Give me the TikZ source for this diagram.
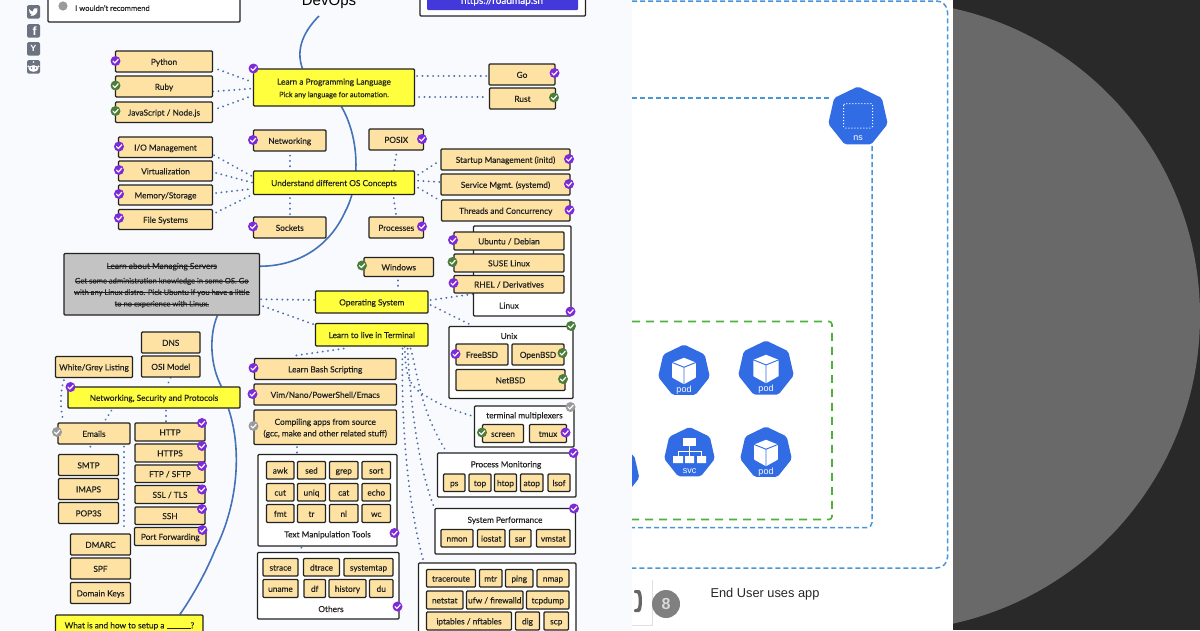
\documentclass[tikz,border=0pt]{standalone}
\usepackage{fontspec}
\setmainfont[FakeBold=0.25]{Lato}
\newfontfamily\rmapfont{Liberation Sans}
\usetikzlibrary{shapes.geometric}
\pgfdeclarelayer{bglayer}\pgfdeclarelayer{linelayer}
\pgfsetlayers{bglayer,linelayer,main}
\definecolor{tanfill}{HTML}{FDE2A3}
\definecolor{yelfill}{HTML}{FFFF3D}
\definecolor{grayfill}{HTML}{C3C3C3}
\definecolor{edge}{HTML}{222222}
\definecolor{panel}{HTML}{F8FAFD}
\definecolor{curvec}{HTML}{4472B8}
\definecolor{dotc}{HTML}{4A6DA8}
\definecolor{cpurple}{HTML}{7D2AD8}
\definecolor{cgreen}{HTML}{4B7D3B}
\definecolor{cgray}{HTML}{9A9A9A}
\definecolor{kblue}{HTML}{326CE5}
\definecolor{dashblue}{HTML}{4A94D8}
\definecolor{dashgreen}{HTML}{4FB03C}
\definecolor{social}{HTML}{6B7280}
\tikzset{
 x=1pt,y=-1pt,
 box/.style={draw=edge,line width=1.2pt,rounded corners=1pt,inner sep=0pt,align=center,text=edge,font=\fontsize{8.3}{11.5}\selectfont},
 conn/.style={dotc,line width=2pt,line cap=round,dash pattern=on 0.1pt off 5.2pt},
 curve/.style={curvec,line width=1.6pt},
 kdash/.style={dashblue,line width=1.5pt,dash pattern=on 5pt off 3pt},
 gdash/.style={dashgreen,line width=1.6pt,dash pattern=on 8pt off 6pt},
 hept/.style={regular polygon,regular polygon sides=7,fill=kblue,inner sep=0pt,rounded corners=2pt},
 plabel/.style={inner sep=0pt,text=edge,yshift=-1pt,font=\fontsize{8.3}{10}\selectfont},
 klabel/.style={inner sep=0pt,text=white,font=\rmapfont\fontsize{9}{10}\selectfont}
}
\newcommand\anybox[7]{\node[box,fill=#1,minimum width={(#5-#3)*1pt},minimum height={(#6-#4)*1pt}] (#2) at ({(#3+#5)/2},{(#4+#6)/2}) {\rule{0pt}{8.2pt}\vphantom{g}#7};}
\newcommand\tb[6]{\anybox{tanfill}{#1}{#2}{#3}{#4}{#5}{#6}}
\newcommand\yb[6]{\anybox{yelfill}{#1}{#2}{#3}{#4}{#5}{#6}}
\newcommand\wb[5]{\anybox{white}{#1}{#2}{#3}{#4}{#5}{}}
\newcommand\chk[3]{\fill[#3] (#1,#2) circle (5);\draw[white,line width=1.2pt,line cap=round,line join=round] ({#1-2.5},{#2+.1}) -- ({#1-.6},{#2+2}) -- ({#1+2.8},{#2-1.8});}
\newcommand\strk[1]{\setbox0\hbox{#1}\rlap{\raisebox{.24em}{\rule{\wd0}{.55pt}}}\box0}
\newcommand\strs[1]{\strk{\fontsize{7.6}{9}\selectfont #1}}
\newcommand\podn[5]{\node[hept,minimum size=#4*1pt] (#1) at (#2,#3) {};
 \begin{scope}[shift={(#2,#3)},scale=#4/56]
 \fill[white,rounded corners=.5pt] (0,-14)--(12.5,-9)--(12.5,7)--(0,14)--(-12.5,7)--(-12.5,-9)--cycle;
 \draw[kblue,line width=.9pt] (-12.5,-9)--(0,-4)--(12.5,-9) (0,-4)--(0,14);
 \end{scope}
 \node[klabel] (#1t) at (#2,{#3+#4*.36}) {pod};}
\begin{document}
\begin{tikzpicture}
\useasboundingbox (0,0) rectangle (1200,630);
\begin{pgfonlayer}{bglayer}
\fill[panel] (0,0) rectangle (632,630);
\fill[white] (632,0) rectangle (953,630);
\fill[black!84] (953,0) rectangle (1200,630);
\begin{scope}
\clip (953,0) rectangle (1200,630);
\fill[black!59] (885,316) circle (315);
\end{scope}
\end{pgfonlayer}
% social
\foreach \yy/\ss in {5/t,24/f,42/y,60/r}{\fill[social,rounded corners=1.5pt] (27,\yy) rectangle (40,{\yy+13.5});}
\fill[white] (29,9) .. controls (31,11) and (32,11.5) .. (33,11.5) .. controls (33,8) and (36,7.5) .. (37.5,8.5) .. controls (38,12) and (36,16.5) .. (30,16) .. controls (31,15.5) and (32,15) .. (32,15) .. controls (30,14) and (29,12) .. (29,9);
\node[inner sep=0pt,text=white,font=\rmapfont\bfseries\fontsize{12}{12}\selectfont] (fbicon) at (34.5,31.5) {f};
\node[inner sep=0pt,text=white,font=\rmapfont\bfseries\fontsize{9}{9}\selectfont] (ycicon) at (33.5,48.8) {Y};
\fill[white] (33.5,68.5) ellipse (5 and 3.3);\fill[social] (31.5,68) circle (.9) (35.5,68) circle (.9);\fill[white] (33.5,62) circle (.9);\fill[white] (28.5,66.5) circle (1.1) (38.5,66.5) circle (1.1);
% legend
\wb{legend}{48}{-20}{240}{22}
\fill[cgray] (63,6) circle (4.6);
\node[plabel,anchor=west,font=\fontsize{7.6}{9}\selectfont] (legt) at (75,7) {I wouldn't recommend};
\node[inner sep=0pt,text=black,font=\rmapfont\fontsize{15}{16}\selectfont] (devops) at (329,2) {DevOps};
\wb{linkbox}{420}{-20}{585.5}{16}
\fill[rounded corners=1pt,fill={rgb,255:red,67;green,56;blue,218}] (427,-20) rectangle (578,10);
\node[inner sep=0pt,text=white,font=\fontsize{10}{11}\selectfont] (linkt) at (502,1) {https://roadmap.sh};
% language group
\tb{py}{115.5}{51}{212.5}{72}{Python}
\tb{rb}{115.5}{76}{212.5}{97}{Ruby}
\tb{js}{115.5}{102}{212.5}{122.5}{JavaScript / Node.js}
\yb{lang}{253.5}{69}{414.5}{106}{Learn a Programming Language\\[1pt]{\fontsize{7.4}{9}\selectfont Pick any language for automation.}}
\tb{go}{489}{64}{555}{85}{Go}
\tb{rust}{489.5}{88}{555.5}{109}{Rust}
% OS concepts
\tb{io}{118.5}{137}{212.5}{157.5}{I/O Management}
\tb{virt}{118.5}{161}{212.5}{181}{Virtualization}
\tb{mem}{118.5}{185}{212.5}{205}{Memory/Storage}
\tb{fs}{118.5}{209.5}{212.5}{229.5}{File Systems}
\tb{netw}{253.5}{130}{326}{151}{Networking}
\tb{posix}{369}{129}{423.5}{150}{POSIX}
\yb{oscon}{253.5}{171}{414.5}{194.5}{Understand different OS Concepts}
\tb{sock}{253.5}{217}{326}{238}{Sockets}
\tb{proc}{369}{217}{423.5}{238}{Processes}
\tb{startup}{441}{149}{570}{170}{Startup Management (initd)}
\tb{service}{441}{174}{570}{195}{Service Mgmt. (systemd)}
\tb{threads}{441.5}{200}{570}{221}{Threads and Concurrency}
% servers
\node[box,fill=grayfill,minimum width=195.5pt,minimum height=61.5pt] (srv) at (161.75,284.25) {\rule{0pt}{8.2pt}\strk{Learn about Managing Servers}\\[3pt]\strs{Get some administration knowledge in some OS. Go}\\\strs{with any Linux distro. Pick Ubuntu if you have a little}\\\strs{to no experience with Linux.}};
\tb{win}{364}{257.5}{433.5}{276.5}{Windows}
\yb{opsys}{315.5}{291}{428}{313}{Operating System}
\yb{term}{315.5}{323.5}{428}{346}{Learn to live in Terminal}
% linux
\wb{linux}{473.5}{226}{571}{316}
\node[plabel] (linuxt) at (509,304.5) {Linux};
\tb{ubuntu}{454}{232}{564}{250}{Ubuntu / Debian}
\tb{suse}{454}{254}{564}{272}{SUSE Linux}
\tb{rhel}{454}{275.5}{564}{293}{RHEL / Derivatives}
\wb{unix}{449}{326.5}{573}{398.5}
\node[plabel] (unixt) at (509,335) {Unix};
\tb{free}{456}{344}{508}{365}{FreeBSD}
\tb{open}{512}{344}{564}{365}{OpenBSD}
\tb{netb}{456}{369.5}{565}{390.5}{NetBSD}
\wb{tmuxb}{474.5}{406}{574}{447}
\node[plabel] (tmuxt) at (524.5,415) {terminal multiplexers};
\tb{screen}{482.5}{424.5}{523.5}{442.5}{screen}
\tb{tmux}{529.5}{424.5}{566.5}{442.5}{tmux}
\wb{pmon}{437.5}{453}{576}{497}
\node[plabel] (pmont) at (506,464) {Process Monitoring};
\tb{ps}{443.5}{474}{465}{491.5}{ps}
\tb{top}{469}{474}{491}{491.5}{top}
\tb{htop}{494.5}{474}{516.5}{491.5}{htop}
\tb{atop}{520.5}{474}{543}{491.5}{atop}
\tb{lsof}{548}{474}{570}{491.5}{lsof}
\wb{sysp}{435}{508.5}{575.5}{554}
\node[plabel] (syspt) at (505,519.5) {System Performance};
\tb{nmon}{441}{529.5}{473}{547}{nmon}
\tb{iostat}{477.5}{529.5}{505}{547}{iostat}
\tb{sar}{509.5}{529.5}{531}{547}{sar}
\tb{vmstat}{536.5}{529.5}{570}{547}{vmstat}
\wb{netb2}{418.5}{563}{576}{650}
\tb{traceroute}{426.5}{569.5}{475.5}{587}{traceroute}
\tb{mtr}{479.5}{569.5}{502}{587}{mtr}
\tb{ping}{505.5}{569.5}{533}{587}{ping}
\tb{nmap}{537}{569.5}{569}{587}{nmap}
\tb{netstat}{426.5}{591}{463}{609}{netstat}
\tb{ufw}{466.5}{591}{523}{609}{ufw / firewalld}
\tb{tcpdump}{526.5}{591}{569}{609}{tcpdump}
\tb{iptables}{426.5}{612}{511.5}{630}{iptables / nftables}
\tb{dig}{515.5}{612}{539.5}{630}{dig}
\tb{scp}{544}{612}{568.5}{630}{scp}
% shell
\tb{bash}{254.5}{358.5}{396}{379.5}{Learn Bash Scripting}
\tb{vim}{254}{384}{396.5}{405}{Vim/Nano/PowerShell/Emacs}
\tb{comp}{254}{410}{396.5}{444.5}{Compiling apps from source\\(gcc, make and other related stuff)}
\wb{textb}{258}{454.5}{397}{546}
\node[plabel] (textt) at (327.5,534) {Text Manipulation Tools};
\tb{awk}{266.5}{461.5}{294}{479}{awk}
\tb{sed}{297.5}{461.5}{325.5}{479}{sed}
\tb{grep}{329.5}{461.5}{358}{479}{grep}
\tb{sort}{362}{461.5}{390.5}{479}{sort}
\tb{cut}{266.5}{483.5}{294}{501}{cut}
\tb{uniq}{297.5}{483.5}{325.5}{501}{uniq}
\tb{cat}{329.5}{483.5}{358}{501}{cat}
\tb{echo}{362}{483.5}{390.5}{501}{echo}
\tb{fmt}{266.5}{504.5}{294}{522.5}{fmt}
\tb{tr}{297.5}{504.5}{325.5}{522.5}{tr}
\tb{nl}{329.5}{504.5}{358}{522.5}{nl}
\tb{wc}{362}{504.5}{390.5}{522.5}{wc}
\wb{others}{257.5}{552.5}{399}{619}
\node[plabel] (otherst) at (331,608) {Others};
\tb{strace}{263}{558.5}{298}{576}{strace}
\tb{dtrace}{303.5}{558.5}{339.5}{576}{dtrace}
\tb{systemtap}{344}{558.5}{393}{576}{systemtap}
\tb{uname}{263}{579.5}{298}{597.5}{uname}
\tb{df}{304}{579.5}{325.5}{597.5}{df}
\tb{history}{329}{579.5}{366}{597.5}{history}
\tb{du}{369.5}{579.5}{393}{597.5}{du}
% network
\tb{dns}{141.5}{332}{200}{353}{DNS}
\tb{osi}{141.5}{356}{200}{377}{OSI Model}
\tb{wgl}{55.5}{356.5}{132.5}{377.5}{White/Grey Listing}
\yb{nsp}{68}{387}{240}{408}{Networking, Security and Protocols}
\tb{emails}{58}{423}{130}{444}{Emails}
\tb{smtp}{58.5}{454.5}{118.5}{475.5}{SMTP}
\tb{imaps}{58.5}{478.5}{118.5}{499.5}{IMAPS}
\tb{pop}{58.5}{502.5}{118.5}{523.5}{POP3S}
\tb{dmarc}{70.5}{534}{130.5}{555}{DMARC}
\tb{spf}{70.5}{558}{130.5}{579}{SPF}
\tb{dkim}{70.5}{582.5}{130.5}{603.5}{Domain Keys}
\tb{http}{135}{423}{205}{441}{HTTP}
\tb{https}{135}{444}{205}{462}{HTTPS}
\tb{ftp}{135}{465}{205}{482.5}{FTP / SFTP}
\tb{ssl}{135}{485.5}{205}{503.5}{SSL / TLS}
\tb{ssh}{135}{507}{205}{524.5}{SSH}
\tb{port}{134.5}{527.5}{206}{545.5}{Port Forwarding}
\anybox{yelfill}{setup}{55.5}{615}{203}{650}{}
\node[plabel] (setupt) at (129.5,625) {What is and how to setup a \rule[-.3pt]{24pt}{.5pt}?};
% connectors
\coordinate (cstart) at (319,16);
\begin{pgfonlayer}{linelayer}
\draw[curve] (cstart) .. controls (305,30) and (295,48) .. ([shift={(49.5,0)}]lang.north west);
\draw[curve] ([shift={(88.5,0)}]lang.south west) .. controls (358,135) and (362,180) .. (345,212) .. controls (330,245) and (300,266) .. ([shift={(0,-18)}]srv.east);
\draw[curve] ([shift={(154,0)}]srv.south west) .. controls (209,335) and (210,365) .. ([shift={(154,0)}]nsp.north west);
\draw[curve] ([shift={(161,0)}]nsp.south west) .. controls (241,445) and (240,500) .. (215,550) .. controls (205,575) and (190,600) .. ([shift={(125,0)}]setup.north west);
\draw[conn] ([shift={(5,8)}]py.east) -- ([shift={(-2,-6)}]lang.west);
\draw[conn] ([shift={(0,5)}]rb.east) -- ([shift={(0,1)}]lang.west);
\draw[conn] ([shift={(5,-4)}]js.east) -- ([shift={(0,8)}]lang.west);
\draw[conn] ([shift={(2,-11.5)}]lang.east) -- ([shift={(-1,1.5)}]go.west);
\draw[conn] ([shift={(4,9.5)}]lang.east) -- ([shift={(-1,-1.5)}]rust.west);
\draw[conn] ([shift={(0,4)}]netw.south) -- (netw.south|-oscon.north);
\draw[conn] ([shift={(0,4)}]posix.south) -- ([shift={(-2.5,0)}]posix.south|-oscon.north);
\draw[conn] ([shift={(0,3)}]netw.south|-oscon.south) -- (netw.south|-sock.north);
\draw[conn] ([shift={(-2.5,3)}]posix.south|-oscon.south) -- (proc.north);
\draw[conn] ([shift={(1,8)}]io.east) -- ([shift={(0,-6)}]oscon.west);
\draw[conn] ([shift={(3,2)}]virt.east) -- ([shift={(0,0)}]oscon.west);
\draw[conn] ([shift={(3,-2)}]mem.east) -- ([shift={(0,6)}]oscon.west);
\draw[conn] ([shift={(3,-7)}]fs.east) -- ([shift={(0,11.5)}]oscon.west);
\draw[conn] ([shift={(3,-8)}]oscon.east) -- ([shift={(-1,1.5)}]startup.west);
\draw[conn] ([shift={(3,-2)}]oscon.east) -- ([shift={(-1,-2.5)}]service.west);
\draw[conn] ([shift={(3,5)}]oscon.east) -- ([shift={(-1,-10)}]threads.west);
\draw[conn] ([shift={(1,15)}]srv.east) -- ([shift={(0,-2)}]opsys.west);
\draw[conn] ([shift={(3,22)}]srv.east) -- ([shift={(0,-10)}]term.west);
\draw[conn] ([shift={(-0.5,-2)}]win.south) -- ([shift={(26.5,0)}]opsys.north);
\draw[conn] ([shift={(2,-2)}]opsys.east) -- ([shift={(0,23)}]linux.west);
\draw[conn] ([shift={(2,3)}]opsys.east) -- ([shift={(24.5,0)}]unix.north west);
\draw[conn] ([shift={(-28,2)}]term.south) -- ([shift={(-32.5,-2)}]bash.north);
\draw[conn] ([shift={(-24,0)}]term.south east) .. controls (406,365) and (404,385) .. (426,396) .. controls (440,405) and (455,411) .. ([shift={(0,-10)}]tmuxb.west);
\draw[conn] ([shift={(-18,2)}]term.south east) .. controls (418,375) and (420,410) .. ([shift={(10,0)}]pmon.north west);
\draw[conn] ([shift={(-21,2)}]term.south east) .. controls (409,380) and (415,460) .. ([shift={(0,0)}]sysp.north west);
\draw[conn] ([shift={(-26,2)}]term.south east) .. controls (401,410) and (406,500) .. ([shift={(6,0)}]netb2.north west);
\draw[conn] ([shift={(44,2)}]comp.south west) -- ([shift={(40,0)}]textb.north west);
\draw[conn] ([shift={(44,1)}]textb.south west) -- ([shift={(46.5,0)}]others.north west);
\draw[conn] ([shift={(9,2)}]wgl.south west) .. controls (60,392) and (60,408) .. ([shift={(6,-1)}]emails.north west);
\draw[conn] (osi.south) -- ([shift={(-4,0)}]osi.south|-nsp.north);
\draw[conn] ([shift={(44,2)}]nsp.south west) -- ([shift={(47,-1)}]emails.north west);
\draw[conn] ([shift={(99,2)}]nsp.south west) -- ([shift={(32,-1)}]http.north west);
\draw[conn] ([shift={(33,2)}]emails.south west) -- ([shift={(32,-3)}]smtp.north west);
\draw[conn] ([shift={(67,2)}]emails.south west) -- ([shift={(54.5,-4)}]dmarc.north west);
\end{pgfonlayer}
% checks
\foreach \cx/\cy in {115.5/61,119/146.5,119/170,119/194,119/218,253.5/68.5,253/140,554.5/73,422/139,569/159,569/184,569.5/210,253/226.5,422/226.5,453/240,453.5/283,570.5/311.5,455.5/354,565.5/432.5,573.5/453,574/508.5,394.5/533,397.5/606.5,70.5/387,202/423,202/446,202/466,202/489.5,202/509,202.5/530,253.5/368,252.5/394}{\chk{\cx}{\cy}{cpurple}}
\foreach \cx/\cy in {115.5/85.5,115.5/111,554/97.5,362/265.5,452.5/262,571/326,562.5/353,563/379,482/432.5}{\chk{\cx}{\cy}{cgreen}}
\foreach \cx/\cy in {570.5/407,57/432,253.5/426}{\chk{\cx}{\cy}{cgray}}
% right panel
\coordinate (oa) at (632,1);
\coordinate (ob) at (632,568);
\coordinate (ia) at (632,98);
\coordinate (ib) at (632,527.5);
\coordinate (ga) at (632,321.5);
\coordinate (gb) at (632,519.5);
\node[hept,minimum size=61pt] (ns) at (858,117) {};
\draw[white,line width=1pt,dotted,rounded corners=1.5pt] (843.5,103.5) rectangle (872.5,128);
\node[klabel] (nst) at (858,138) {ns};
\draw[kdash,rounded corners=11pt] (oa) -- (947.5,1) -- (947.5,568) -- (ob);
\draw[kdash,shorten >=27pt] (ia) -- (ia-|ns.center);
\draw[kdash,rounded corners=5pt] ([shift={(14,29)}]ns.center) -- (872,527.5) -- (ib);
\draw[gdash,rounded corners=3pt] (ga) -- (832,321.5) -- (832,519.5) -- (gb);
\podn{poda}{684}{371}{53}{pod}
\podn{podb}{766}{369}{57}{pod}
\podn{podc}{766}{453}{53}{pod}
\node[hept,minimum size=52pt] (svc) at (689.5,453) {};
\fill[white] (683,438) rectangle (696,446);
\draw[white,line width=1pt] (689.5,446) -- (689.5,456) (678,456) -- (678,451) -- (701,451) -- (701,456);
\fill[white] (673,456) rectangle (683,463) (685,456) rectangle (694,463) (697,456) rectangle (706,463);
\node[klabel] (svct) at (689.5,471) {svc};
\begin{scope}
\clip (632,440) rectangle (640,500);
\node[hept,minimum size=52pt] (podd) at (614,472) {};
\end{scope}
\draw[black!12,line width=.8pt] (652,580) -- (652,625) -- (632,625);
\fill[black!60,rounded corners=1pt] (634,590) -- (638,590) .. controls (643,590) and (643,612) .. (638,612) -- (634,612) -- (634,609) -- (637,609) .. controls (639,607) and (639,595) .. (637,593) -- (634,593) -- cycle;
\node[circle,fill=black!50,minimum size=28pt,inner sep=0pt,text=white!85!black,font=\rmapfont\bfseries\fontsize{16}{16}\selectfont] (eight) at (666,604) {8};
\node[inner sep=0pt,text=black!85,font=\rmapfont\fontsize{12.8}{14}\selectfont] (endu) at (765,594.5) {End User uses app};
\end{tikzpicture}
\end{document}
